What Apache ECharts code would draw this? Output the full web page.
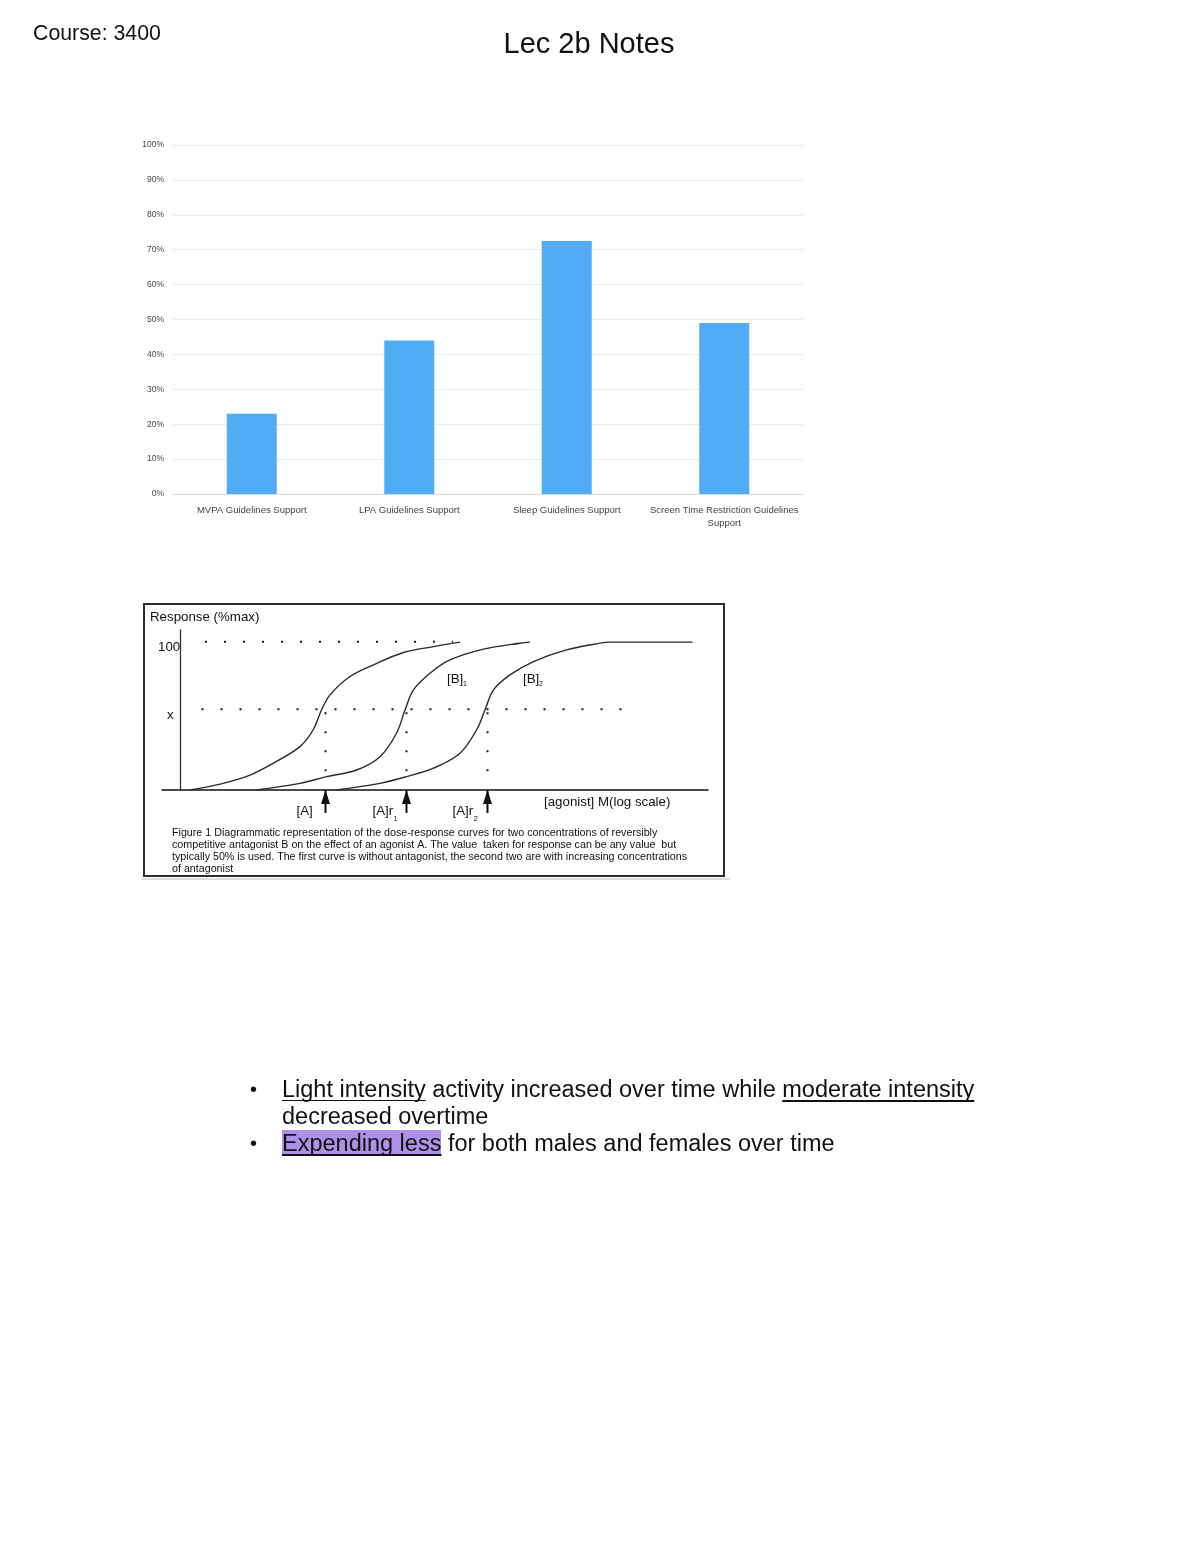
<!DOCTYPE html>
<html>
<head>
<meta charset="utf-8">
<script src="https://cdn.jsdelivr.net/npm/echarts@6/dist/echarts.min.js"></script>
<style>
  html, body { margin:0; padding:0; background:#fff; }
  body { width:1200px; height:1553px; position:relative; overflow:hidden; font-family:"Liberation Sans", Arial, sans-serif; color:#111; }
  #chart { position:absolute; left:0; top:0; width:1200px; height:1553px; }
  .abs { position:absolute; white-space:nowrap; }
  .bl { position:absolute; left:282px; font-size:23.5px; line-height:27px; white-space:nowrap; color:#111; }
  .dot { position:absolute; left:-32px; font-size:20px; }
  .u1 { text-decoration:underline; text-decoration-thickness:1px; text-underline-offset:3px; text-decoration-skip-ink:none; }
  .u2 { text-decoration:underline; text-decoration-thickness:2px; text-underline-offset:3px; text-decoration-skip-ink:none; }
  .hl { background:#ae90e9; }
</style>
</head>
<body>
<div id="chart"></div>
<div class="abs" style="left:33px;top:21px;font-size:21.3px;line-height:24px;">Course: 3400</div>
<div class="abs" style="left:389px;width:400px;text-align:center;top:27px;font-size:29px;line-height:32px;">Lec 2b Notes</div>
<div class="bl" style="top:1076px;"><span class="dot">•</span><span class="u1">Light intensity</span> activity increased over time while <span class="u2">moderate intensity</span></div>
<div class="bl" style="top:1103px;">decreased overtime</div>
<div class="bl" style="top:1130px;"><span class="dot">•</span><span class="u2 hl">Expending less</span> for both males and females over time</div>
<script>
// ---- Bar chart data ----
const barCategories = ['MVPA Guidelines Support', 'LPA Guidelines Support', 'Sleep Guidelines Support', 'Screen Time Restriction Guidelines\nSupport'];
const barValues = [23, 44, 72.5, 49];
const barAxisMax = 100;
const barAxisStep = 10;

// ---- Dose-response diagram data (x: log agonist units, y: response % max) ----
const curveAgonistOnly = [[2,0],[3,0.5],[8.6,4.5],[14,10.1],[18.6,18],[24,29.3],[26.6,40.5],[28.3,54],[30,64.2],[34,76.6],[38.7,84.5],[44.7,92.8],[50.7,96.8],[56,99.8]];
const curveB1 = [[15.3,0],[24,4.5],[29.3,9],[35.3,13.5],[40,22.5],[43.3,38.3],[45,54],[46.7,67.6],[50,78.8],[54,87.8],[60.7,95.1],[68,99.1],[70,99.8]];
const curveB2 = [[31.3,0],[40,4.5],[45.3,9],[50.7,14.7],[56,24.8],[59.3,40.5],[61,54],[62.7,67.6],[66,77.7],[70.7,86.7],[77.3,94.6],[84,99.1],[85.7,99.8],[102.5,99.8]];
const responseMaxLevel = 100;
const responseXLevel = 54.5;
const topDotsRange = [5, 54.6];
const xDotsRange = [4.3, 88.6];
const arrowPositions = [29.1, 45.3, 61.5];
const dropLineRange = [52.5, 10];
const arrowTail = -15.5;

const chart = echarts.init(document.getElementById('chart'), null, {renderer:'canvas'});
const dark = '#2a2a2a';
const F = '"Liberation Sans", Arial, sans-serif';

function curveSeries(data){
  return { type:'line', xAxisIndex:1, yAxisIndex:1, data:data, smooth:0.35, symbol:'none',
    lineStyle:{color:dark, width:1.4}, silent:true, z:3 };
}
function dotSeries(data){
  return { type:'line', xAxisIndex:1, yAxisIndex:1, data:data, symbol:'none',
    lineStyle:{color:'#1a1a1a', width:2, type:[2,17]}, silent:true, z:2 };
}
const arrowSeries = arrowPositions.map(u => ({
  type:'line', xAxisIndex:1, yAxisIndex:1, clip:false, silent:true, z:4,
  showSymbol:true, symbol:'none',
  data:[[u, arrowTail], {value:[u, 0], symbol:'triangle', symbolSize:[9,14], symbolOffset:[0,7], itemStyle:{color:'#111'}}],
  lineStyle:{color:'#111', width:2}
}));
const dropSeries = arrowPositions.map(u => dotSeries([[u, dropLineRange[0]], [u, dropLineRange[1]]]));

const option = {
  animation:false,
  backgroundColor:'transparent',
  grid:[
    {left:173, top:145, width:630, height:349},
    {left:162, top:630, width:546, height:160}
  ],
  xAxis:[
    { type:'category', gridIndex:0, data:barCategories,
      axisLine:{show:true, lineStyle:{color:'#dcdcdc'}}, axisTick:{show:false},
      axisLabel:{interval:0, color:'#444', fontSize:9.5, fontFamily:'Liberation Sans', margin:10, lineHeight:13} },
    { type:'value', gridIndex:1, min:-3.6, max:105.6, show:true,
      axisLine:{show:true, onZero:true, lineStyle:{color:'#111', width:1.5}},
      axisTick:{show:false}, axisLabel:{show:false}, splitLine:{show:false} }
  ],
  yAxis:[
    { type:'value', gridIndex:0, min:0, max:barAxisMax, interval:barAxisStep,
      axisLine:{show:false}, axisTick:{show:false},
      axisLabel:{formatter:'{value}%', color:'#444', fontSize:8.5, fontFamily:'Liberation Sans', margin:9},
      splitLine:{lineStyle:{color:'#ececec', width:1}} },
    { type:'value', gridIndex:1, min:0, max:108,
      axisLine:{show:true, onZero:true, lineStyle:{color:'#333', width:1.3}},
      axisTick:{show:false}, axisLabel:{show:false}, splitLine:{show:false} }
  ],
  series:[
    { type:'bar', xAxisIndex:0, yAxisIndex:0, data:barValues, barWidth:50,
      itemStyle:{color:'#51acf6'}, silent:true },
    curveSeries(curveAgonistOnly),
    curveSeries(curveB1),
    curveSeries(curveB2),
    dotSeries([[topDotsRange[0], responseMaxLevel], [topDotsRange[1], responseMaxLevel]]),
    dotSeries([[xDotsRange[0], responseXLevel], [xDotsRange[1], responseXLevel]]),
    ...dropSeries,
    ...arrowSeries
  ]
};
chart.setOption(option);

function px(u, y){ return chart.convertToPixel({gridIndex:1}, [u, y]); }
function txt(x, y, s, size, extra){
  return Object.assign({ type:'text', x:x, y:y, silent:true, z:10,
    style:{ text:s, font:(size||12)+'px ' + F, fill:'#111',
      align:'left', verticalAlign:'middle', textAlign:'left', textVerticalAlign:'middle' } }, extra||{});
}
const p100 = px(0, responseMaxLevel);
const pX = px(0, responseXLevel);
const aPx = arrowPositions.map(u => px(u, 0)[0]);
const baseY = px(0, 0)[1];

const caption = 'Figure 1 Diagrammatic representation of the dose-response curves for two concentrations of reversibly\n' +
  'competitive antagonist B on the effect of an agonist A. The value  taken for response can be any value  but\n' +
  'typically 50% is used. The first curve is without antagonist, the second two are with increasing concentrations\n' +
  'of antagonist';

chart.setOption({
  graphic:[
    { type:'rect', shape:{x:144, y:604, width:580, height:272}, style:{fill:'none', stroke:'#2b2b2b', lineWidth:2}, silent:true, z:1 },
    { type:'line', shape:{x1:142, y1:879, x2:730, y2:879}, style:{stroke:'#d0d0d0', lineWidth:1.5}, silent:true },
    txt(150, 617, 'Response (%max)', 13.3),
    txt(p100[0]-22, p100[1]+5, '100', 13.3),
    txt(pX[0]-13, pX[1]+6, 'x', 13.3),
    txt(447, 679, '[B]', 13.3),
    txt(463, 684, '1', 7),
    txt(523, 679, '[B]', 13.3),
    txt(539, 684, '2', 7),
    txt(aPx[0]-29, baseY+21, '[A]', 13.3),
    txt(aPx[1]-34, baseY+21, '[A]r', 13.3),
    txt(aPx[1]-13, baseY+29, '1', 7),
    txt(aPx[2]-35, baseY+21, '[A]r', 13.3),
    txt(aPx[2]-14, baseY+29, '2', 8),
    txt(544, baseY+12, '[agonist] M(log scale)', 13.3),
    { type:'text', x:172, y:827, silent:true, z:10,
      style:{ text:caption, font:'10.7px ' + F, fill:'#111', lineHeight:12,
        align:'left', verticalAlign:'top', textAlign:'left', textVerticalAlign:'top' } }
  ]
});
</script>
</body>
</html>
